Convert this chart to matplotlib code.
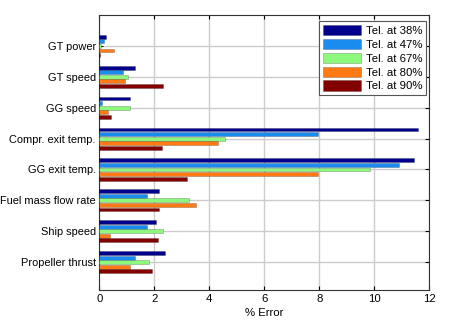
import numpy as np
import matplotlib
matplotlib.use("Agg")
import matplotlib.pyplot as plt

plt.rcParams['font.family'] = ['Liberation Sans', 'DejaVu Sans']

categories = ["GT power", "GT speed", "GG speed", "Compr. exit temp.",
              "GG exit temp.", "Fuel mass flow rate", "Ship speed", "Propeller thrust"]
series_labels = ["Tel. at 38%", "Tel. at 47%", "Tel. at 67%", "Tel. at 80%", "Tel. at 90%"]

tel38 = [0.23, 1.29, 1.13, 11.58, 11.44, 2.17, 2.05, 2.40]
tel47 = [0.17, 0.86, 0.09, 7.94, 10.90, 1.72, 1.75, 1.29]
tel67 = [0.06, 1.04, 1.13, 4.58, 9.83, 3.26, 2.30, 1.82]
tel80 = [0.55, 0.92, 0.33, 4.33, 7.94, 3.50, 0.39, 1.10]
tel90 = [0.02, 2.33, 0.43, 2.29, 3.19, 2.17, 2.15, 1.92]

xticks = [0, 2, 4, 6, 8, 10, 12]

colors = ["#00008c", "#1a8cf0", "#8cf87c", "#ff7a14", "#820000"]

fig = plt.figure(figsize=(4.74, 3.23), dpi=100)
ax = fig.add_axes([0.2095, 0.1022, 0.6962, 0.8514])

series = [tel38, tel47, tel67, tel80, tel90]
pos = np.arange(1, len(categories) + 1)
slot = 0.148
for i, (vals, lab, col) in enumerate(zip(series, series_labels, colors)):
    ax.barh(pos + (i - 2) * slot, vals, height=0.125, color=col, label=lab,
            edgecolor=(0, 0, 0, 0.35), linewidth=0.4, zorder=3)

ax.set_xlim(0, 12)
ax.set_ylim(8.9, 0)
ax.set_xticks(xticks)
ax.set_xticklabels([str(t) for t in xticks], fontsize=8.2)
ax.set_yticks(pos)
ax.set_yticklabels(categories, fontsize=7.9)
ax.set_xlabel("% Error", fontsize=8.2, labelpad=3)

ax.grid(True, color="#cccccc", linewidth=1.0, zorder=0)
ax.tick_params(direction="in", length=3, width=0.8, top=True, right=True, pad=3)
ax.tick_params(axis="y", pad=2.5)
for s in ax.spines.values():
    s.set_linewidth(0.8)
    s.set_color("#333333")

leg = ax.legend(loc="upper right", bbox_to_anchor=(0.99, 0.978), fontsize=8.2,
                frameon=True, fancybox=False, edgecolor="#555555", framealpha=1,
                handlelength=3.3, handleheight=1.0, handletextpad=0.4,
                labelspacing=0.25, borderpad=0.35, borderaxespad=0)
leg.get_frame().set_linewidth(0.8)

fig.savefig("out.png", dpi=100)
